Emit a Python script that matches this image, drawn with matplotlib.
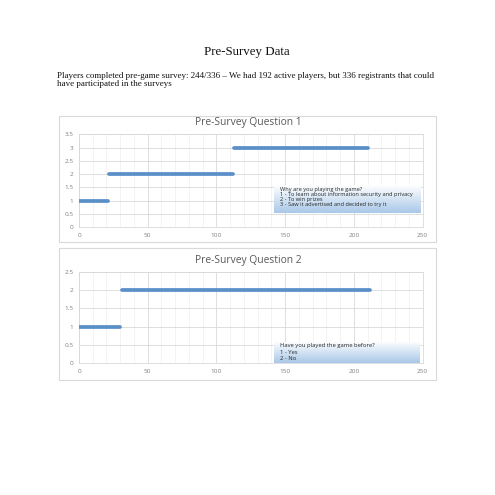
import numpy as np
import matplotlib
matplotlib.use("Agg")
import matplotlib.pyplot as plt
from matplotlib.patches import Rectangle
from matplotlib.ticker import MultipleLocator

# ---- data ----
q1_categories = [1, 2, 3]
q1_counts = [22, 91, 98]
q2_categories = [1, 2]
q2_counts = [31, 182]
q1_legend = ["Why are you playing the game?",
             "1 - To learn about information security and privacy",
             "2 - To win prizes",
             "3 - Saw it advertised and decided to try it"]
q2_legend = ["Have you played the game before?", "1 - Yes", "2 - No"]
x_ticks = [0, 50, 100, 150, 200, 250]
q1_yticks = [0, 0.5, 1, 1.5, 2, 2.5, 3, 3.5]
q2_yticks = [0, 0.5, 1, 1.5, 2, 2.5]

W = H = 495.0
fig = plt.figure(figsize=(4.95, 4.95), dpi=100)
fig.patch.set_facecolor("white")

def fx(px):
    return px / W

def fy(py):
    return 1 - py / H

BLUE = "#5b8fc8"
SANS = ["Open Sans", "DejaVu Sans"]
SERIF = ["Liberation Serif", "DejaVu Serif"]

fig.text(fx(247), fy(51.5), "Pre-Survey Data", ha="center", va="center",
         family=SERIF, fontsize=9.3, color="#111111")
fig.text(fx(57), fy(76), "Players completed pre-game survey: 244/336 \u2013 We had 192 active players, but 336 registrants that could",
         ha="left", va="center", family=SERIF, fontsize=6.45, color="#111111")
fig.text(fx(57), fy(84.3), "have participated in the surveys",
         ha="left", va="center", family=SERIF, fontsize=6.45, color="#111111")

def panel(top, bottom):
    fig.patches.append(Rectangle((fx(59), fy(bottom)), fx(436) - fx(59), fy(top) - fy(bottom),
                                 transform=fig.transFigure, facecolor="none",
                                 edgecolor="#d9d9d9", linewidth=0.8, zorder=-1))

def chart(top_px, bot_px, title, title_y, cats, counts, yticks, ymax, box):
    ax = fig.add_axes([fx(79), fy(bot_px), fx(422.7) - fx(79), fy(top_px) - fy(bot_px)])
    vals = np.repeat(cats, counts)
    xs = np.arange(len(vals))
    for c in cats:
        m = vals == c
        ax.plot(xs[m], vals[m], color=BLUE, linewidth=2.7,
                solid_capstyle="round", zorder=3)
    ax.set_xlim(0, 250)
    ax.set_ylim(0, ymax)
    ax.set_xticks(x_ticks)
    ax.set_yticks(yticks)
    ax.set_yticklabels([("%g" % v) for v in yticks])
    ax.xaxis.set_minor_locator(MultipleLocator(10))
    ax.grid(True, which="major", color="#d9d9d9", linewidth=0.6)
    ax.grid(True, which="minor", axis="x", color="#efefef", linewidth=0.5)
    ax.set_axisbelow(True)
    ax.tick_params(which="both", length=0, labelsize=4.6, labelcolor="#7f7f7f", pad=4)
    for lab in ax.get_xticklabels() + ax.get_yticklabels():
        lab.set_family(SANS)
    for s in ax.spines.values():
        s.set_color("#d9d9d9")
        s.set_linewidth(0.6)
    fig.text(fx(248), fy(title_y), title, ha="center", va="center",
             family=SANS, fontsize=7.35, color="#595959")
    # legend text box with gradient
    x0, y0, x1, y1 = box
    bax = fig.add_axes([fx(x0), fy(y1), fx(x1) - fx(x0), fy(y0) - fy(y1)])
    grad = np.linspace(0, 1, 100).reshape(-1, 1)
    cmap = matplotlib.colors.LinearSegmentedColormap.from_list("g", ["#ffffff", "#a9c8e8"])
    bax.imshow(grad, aspect="auto", cmap=cmap, extent=[0, 1, 0, 1], origin="upper")
    bax.set_xlim(0, 1)
    bax.set_ylim(0, 1)
    bax.axis("off")
    return ax

panel(116, 242)
panel(248, 380)

chart(134.3, 227.3, "Pre-Survey Question 1", 123, q1_categories, q1_counts,
      q1_yticks, 3.5, (274, 185, 421, 213))
for i, line in enumerate(q1_legend):
    fig.text(fx(280), fy(190 + i * 4.7), line, ha="left", va="center",
             family=SANS, fontsize=4.1, color="#262626")

chart(271.7, 363.3, "Pre-Survey Question 2", 260, q2_categories, q2_counts,
      q2_yticks, 2.5, (274, 341.7, 420, 363.3))
for i, line in enumerate(q2_legend):
    fig.text(fx(280), fy(346 + i * 6.0), line, ha="left", va="center",
             family=SANS, fontsize=4.2, color="#262626")

fig.savefig("out.png", dpi=100, facecolor="white")
